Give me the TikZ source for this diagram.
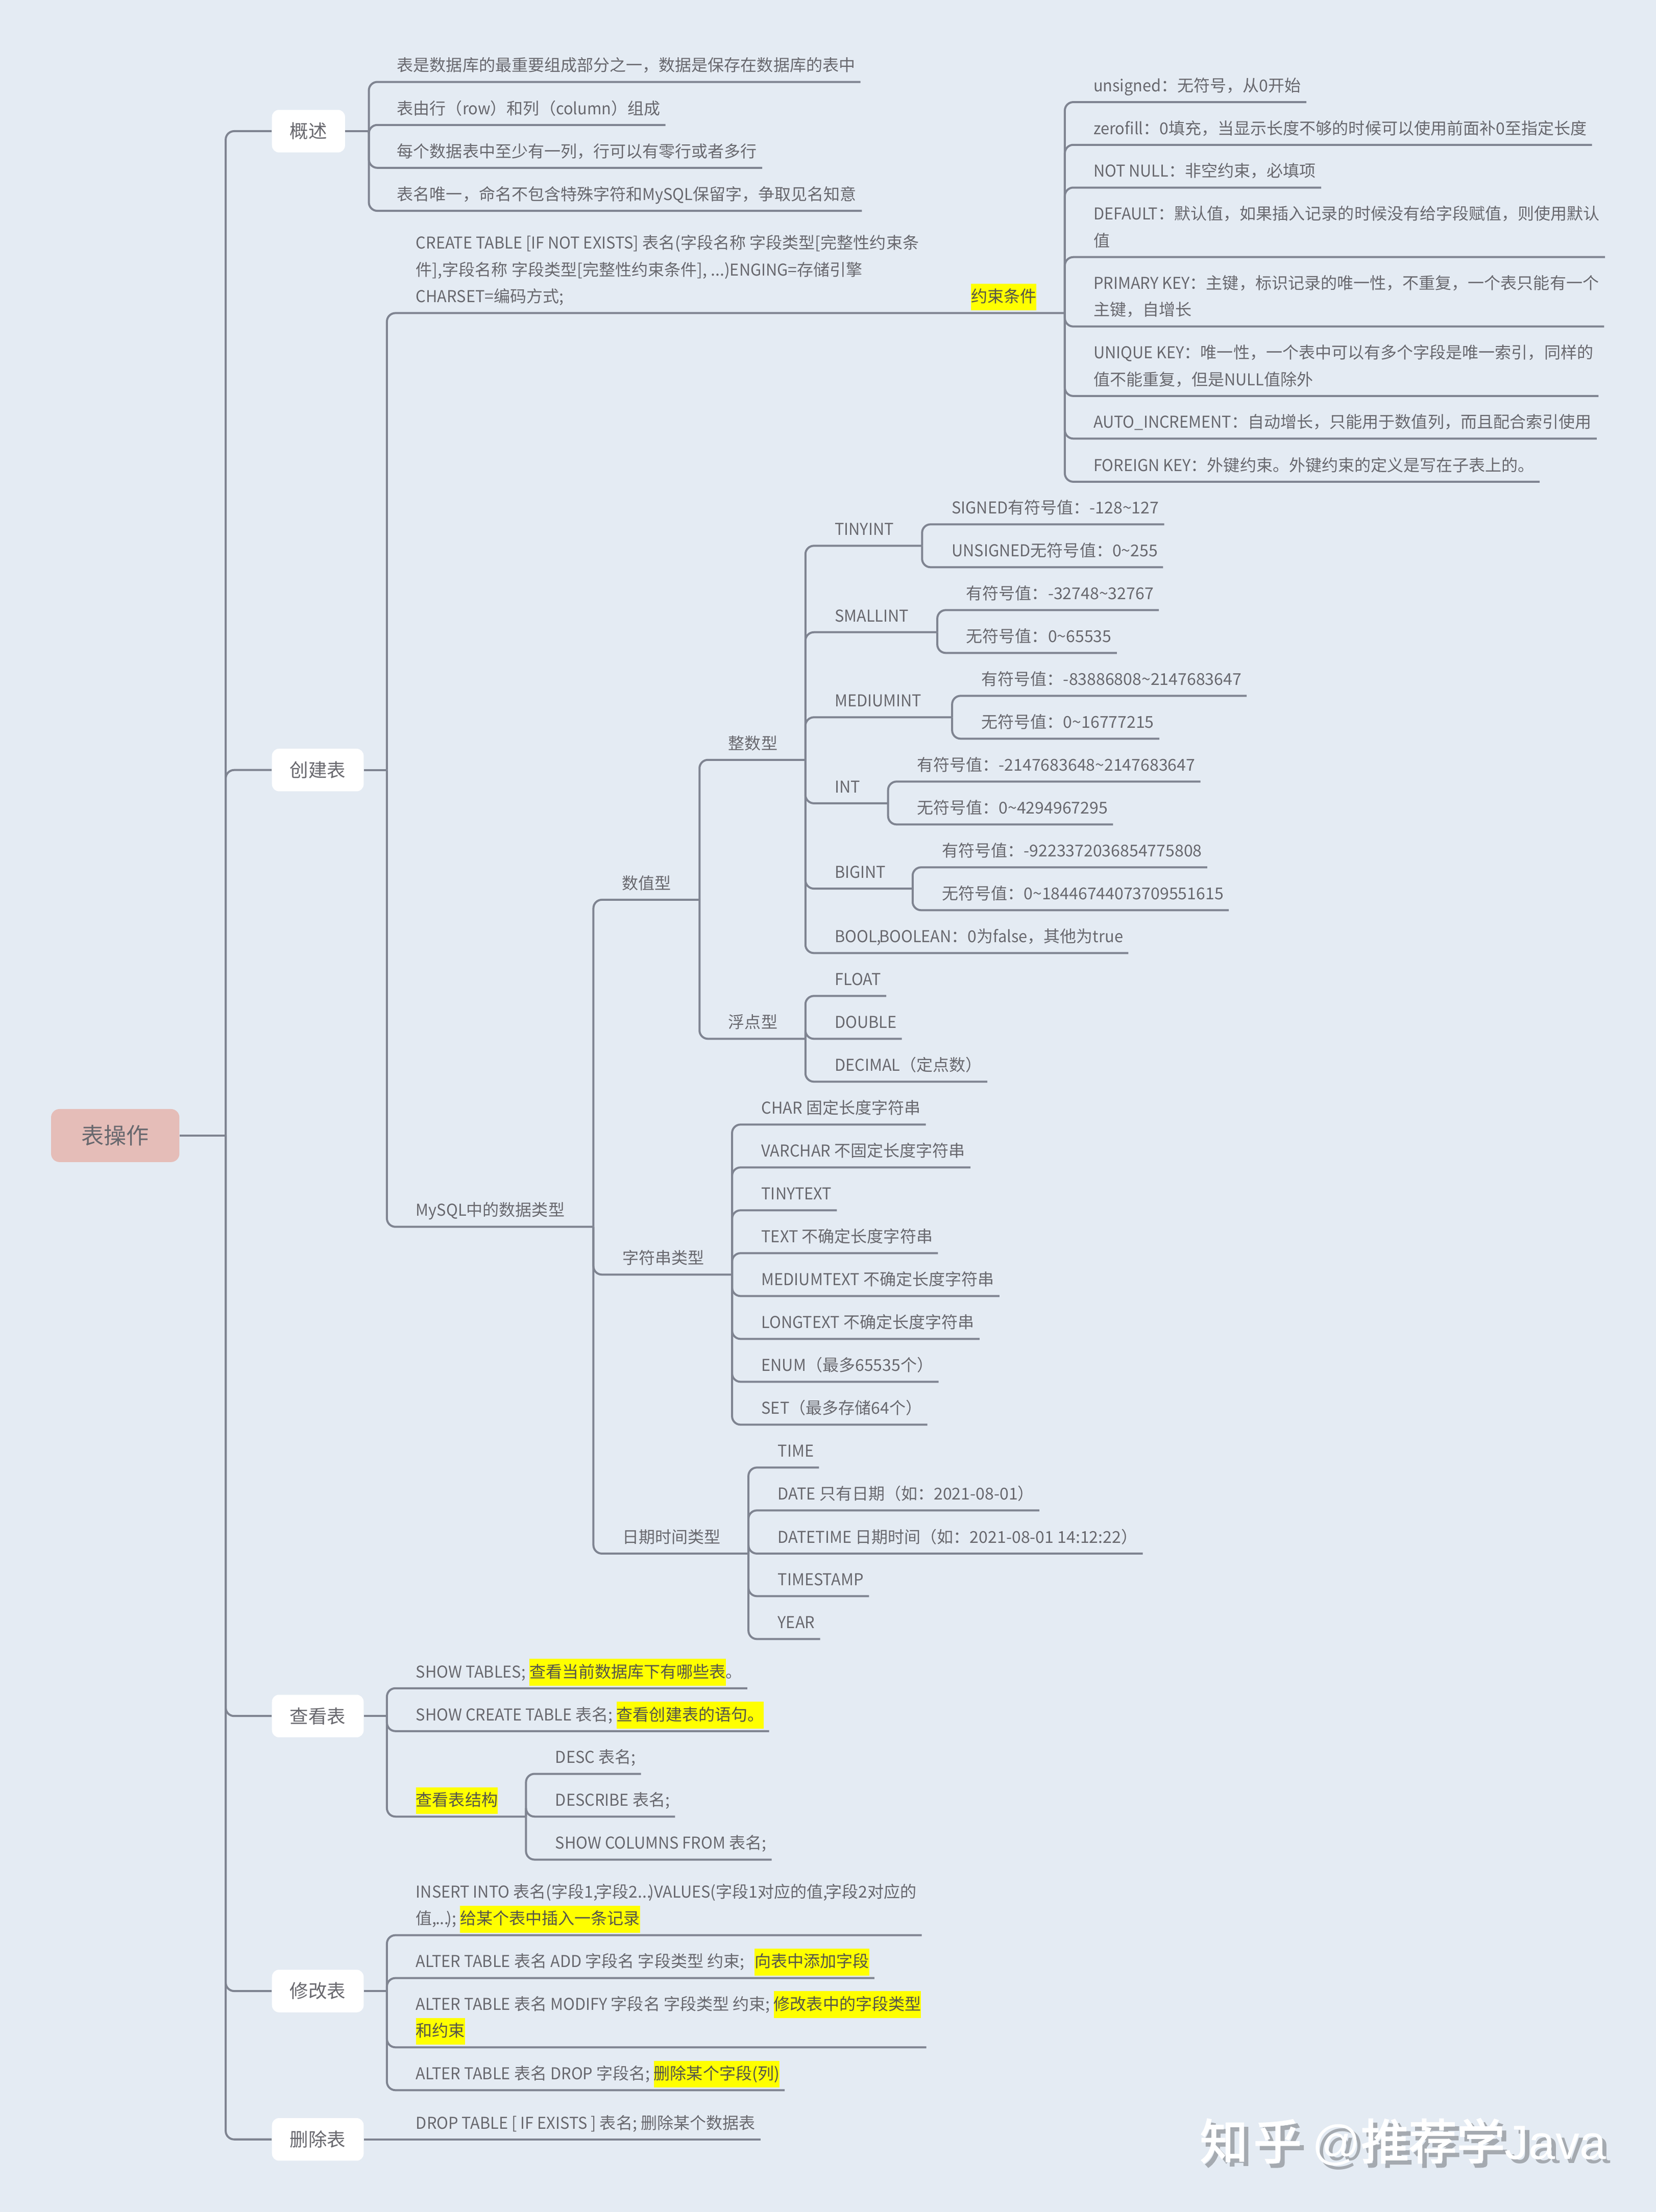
\documentclass[tikz,border=0pt]{standalone}
\usepackage{fontspec}
\setmainfont{Noto Sans CJK SC}
\newfontfamily\latnarrow[FakeStretch=0.96]{Noto Sans CJK SC}
\newfontfamily\wmcjk[FakeBold=2.5]{Noto Sans CJK SC}
\newfontfamily\wmlatin{Liberation Sans}
\usepackage{tikz}
\definecolor{pagebg}{HTML}{E4EBF3}
\definecolor{linegray}{HTML}{7F8491}
\definecolor{textgray}{HTML}{68686E}
\definecolor{rootfill}{HTML}{E5BDB8}
\definecolor{hlyellow}{HTML}{FFFF00}
\definecolor{hltext}{HTML}{55554A}
\definecolor{wmshade}{HTML}{A5AAB0}
\newcommand{\hl}[1]{{\setlength{\fboxsep}{0pt}\colorbox{hlyellow}{\color{hltext}\strut #1}}}
\newcommand{\lat}[1]{{\latnarrow #1}}
\newcommand{\til}{\textasciitilde}
\newcommand{\wmtext}{{\wmcjk 知\hspace{4pt}乎 }{\wmlatin @}{\wmcjk 推荐学}{\wmlatin Java}}
\tikzset{
  link/.style={line width=1.45pt, draw=linegray, rounded corners=6pt},
  leaf/.style={anchor=south west, inner xsep=0pt, inner ysep=1.6pt, align=left, text=textgray,
    font=\fontsize{11.6}{19}\selectfont, execute at begin node=\strut, execute at end node=\strut},
  topic/.style={fill=white, rounded corners=5pt, inner xsep=12.7pt, inner ysep=0pt, minimum height=30.2pt,
    text=textgray, font=\fontsize{13.2}{16}\selectfont},
  rootbox/.style={fill=rootfill, rounded corners=6pt, minimum width=91pt, minimum height=37.6pt,
    inner sep=0pt, text=textgray, font=\fontsize{16}{20}\selectfont},
  watermark/.style={anchor=west, inner sep=0pt, font=\fontsize{34}{40}\selectfont}
}
\begin{document}
\begin{tikzpicture}[x=1pt,y=-1pt]
  \fill [pagebg] (0,0) rectangle (1174,1568.5);
  \useasboundingbox (0,0) rectangle (1174,1568.5);

  \node (root) at (81.7,805.2) [rootbox] {表操作};
  \node (gaishu) at (192.6,93) [topic, anchor=west] {概述};
  \node (chuangjian) at (192.6,546) [topic, anchor=west] {创建表};
  \node (chakan) at (192.6,1216.8) [topic, anchor=west] {查看表};
  \node (xiugai) at (192.6,1411.8) [topic, anchor=west] {修改表};
  \node (shanchu) at (192.6,1517) [topic, anchor=west] {删除表};

  \coordinate (rootT) at (160,805.2);
  \coordinate (gsT) at (261.5,93);
  \coordinate (cjT) at (274.3,546);
  \coordinate (ckT) at (274.3,1216.8);
  \coordinate (xgT) at (274.3,1411.8);
  \coordinate (ysT) at (754.9,222);
  \coordinate (sjT) at (420.7,869.9);
  \coordinate (szT) at (495.9,638);
  \coordinate (zsT) at (571,538.8);
  \coordinate (fdT) at (571,736.6);
  \coordinate (tiT) at (653.7,387);
  \coordinate (smT) at (664.5,448.3);
  \coordinate (meT) at (675,508.6);
  \coordinate (inT) at (629.6,569.6);
  \coordinate (biT) at (647,630.1);
  \coordinate (zfT) at (519,903.8);
  \coordinate (rqT) at (530.6,1101.6);
  \coordinate (jgT) at (372.9,1288.1);

  \node (gs1) at (281.3,58.1) [leaf] {表是数据库的最重要组成部分之一，数据是保存在数据库的表中};
  \node (gs2) at (281.3,88.6) [leaf] {表由行（\lat{row}）和列（\lat{column}）组成};
  \node (gs3) at (281.3,119) [leaf] {每个数据表中至少有一列，行可以有零行或者多行};
  \node (gs4) at (281.3,149.5) [leaf] {表名唯一，命名不包含特殊字符和\lat{MySQL}保留字，争取见名知意};

  \node (create) at (294.7,222) [leaf] {\lat{CREATE TABLE [IF NOT EXISTS]} 表名(字段名称 字段类型[完整性约束条\\件],字段名称 字段类型[完整性约束条件], ...)\lat{ENGING}=存储引擎\\\lat{CHARSET}=编码方式;};
  \node (yueshu) at (688.2,222) [leaf] {\hl{约束条件}};
  \node (ys1) at (775,72.4) [leaf] {\lat{unsigned}：无符号，从0开始};
  \node (ys2) at (775,102.7) [leaf] {\lat{zerofill}：0填充，当显示长度不够的时候可以使用前面补0至指定长度};
  \node (ys3) at (775,133) [leaf] {\lat{NOT NULL}：非空约束，必填项};
  \node (ys4) at (775,182.3) [leaf] {\lat{DEFAULT}：默认值，如果插入记录的时候没有给字段赋值，则使用默认\\值};
  \node (ys5) at (775,231.5) [leaf] {\lat{PRIMARY KEY}：主键，标识记录的唯一性，不重复，一个表只能有一个\\主键，自增长};
  \node (ys6) at (775,280.8) [leaf] {\lat{UNIQUE KEY}：唯一性，一个表中可以有多个字段是唯一索引，同样的\\值不能重复，但是\lat{NULL}值除外};
  \node (ys7) at (775,311) [leaf] {\lat{AUTO\_INCREMENT}：自动增长，只能用于数值列，而且配合索引使用};
  \node (ys8) at (775,341.6) [leaf] {\lat{FOREIGN KEY}：外键约束。外键约束的定义是写在子表上的。};

  \node (mysql) at (294.7,869.9) [leaf] {\lat{MySQL}中的数据类型};
  \node (shuzhi) at (440.9,638) [leaf] {数值型};
  \node (zhengshu) at (516.2,538.8) [leaf] {整数型};
  \node (fudian) at (516.2,736.6) [leaf] {浮点型};
  \node (tiny) at (591.6,387) [leaf] {\lat{TINYINT}};
  \node (small) at (591.6,448.3) [leaf] {\lat{SMALLINT}};
  \node (medium) at (591.6,508.6) [leaf] {\lat{MEDIUMINT}};
  \node (int) at (591.6,569.6) [leaf] {\lat{INT}};
  \node (big) at (591.6,630.1) [leaf] {\lat{BIGINT}};
  \node (bool) at (591.6,675.8) [leaf] {\lat{BOOL,\hspace{-1.5pt}BOOLEAN}：0为\lat{false}，其他为\lat{true}};
  \node (ti1) at (674.5,371.8) [leaf] {\lat{SIGNED}有符号值：-128\til127};
  \node (ti2) at (674.5,402.2) [leaf] {\lat{UNSIGNED}无符号值：0\til255};
  \node (sm1) at (684.8,432.6) [leaf] {有符号值：-32748\til32767};
  \node (sm2) at (684.8,463) [leaf] {无符号值：0\til65535};
  \node (me1) at (695.6,493.4) [leaf] {有符号值：-83886808\til2147683647};
  \node (me2) at (695.6,523.8) [leaf] {无符号值：0\til16777215};
  \node (in1) at (649.9,554.2) [leaf] {有符号值：-2147683648\til2147683647};
  \node (in2) at (649.9,584.6) [leaf] {无符号值：0\til4294967295};
  \node (bi1) at (667.6,615) [leaf] {有符号值：-9223372036854775808};
  \node (bi2) at (667.6,645.4) [leaf] {无符号值：0\til18446744073709551615};
  \node (fd1) at (591.6,706.2) [leaf] {\lat{FLOAT}};
  \node (fd2) at (591.6,736.6) [leaf] {\lat{DOUBLE}};
  \node (fd3) at (591.6,767) [leaf] {\lat{DECIMAL}（定点数）};

  \node (zifu) at (441,903.8) [leaf] {字符串类型};
  \node (zf1) at (539.6,797.4) [leaf] {\lat{CHAR} 固定长度字符串};
  \node (zf2) at (539.6,827.8) [leaf] {\lat{VARCHAR} 不固定长度字符串};
  \node (zf3) at (539.6,858.2) [leaf] {\lat{TINYTEXT}};
  \node (zf4) at (539.6,888.6) [leaf] {\lat{TEXT} 不确定长度字符串};
  \node (zf5) at (539.6,919) [leaf] {\lat{MEDIUMTEXT} 不确定长度字符串};
  \node (zf6) at (539.6,949.4) [leaf] {\lat{LONGTEXT} 不确定长度字符串};
  \node (zf7) at (539.6,979.8) [leaf] {\lat{ENUM}（最多65535个）};
  \node (zf8) at (539.6,1010.2) [leaf] {\lat{SET}（最多存储64个）};

  \node (riqi) at (441,1101.6) [leaf] {日期时间类型};
  \node (rq1) at (551.2,1040.6) [leaf] {\lat{TIME}};
  \node (rq2) at (551.2,1071) [leaf] {\lat{DATE} 只有日期（如：2021-08-01）};
  \node (rq3) at (551.2,1101.6) [leaf] {\lat{DATETIME} 日期时间（如：2021-08-01 14:12:22）};
  \node (rq4) at (551.2,1131.8) [leaf] {\lat{TIMESTAMP}};
  \node (rq5) at (551.2,1162.2) [leaf] {\lat{YEAR}};

  \node (ck1) at (294.7,1197.1) [leaf] {\lat{SHOW TABLES;} \hl{查看当前数据库下有哪些表}。};
  \node (ck2) at (294.7,1227.5) [leaf] {\lat{SHOW CREATE TABLE} 表名; \hl{查看创建表的语句。}};
  \node (ck3) at (294.7,1288.1) [leaf] {\hl{查看表结构}};
  \node (jg1) at (393.5,1257.8) [leaf] {\lat{DESC} 表名;};
  \node (jg2) at (393.5,1288.1) [leaf] {\lat{DESCRIBE} 表名;};
  \node (jg3) at (393.5,1318.6) [leaf] {\lat{SHOW COLUMNS FROM} 表名;};

  \node (xg1) at (294.7,1372.2) [leaf] {\lat{INSERT INTO} 表名(字段1,\hspace{-1.5pt}字段2...\hspace{-2pt})\lat{VALUES}(字段1对应的值,\hspace{-1.5pt}字段2对应的\\值,\hspace{-1pt}...\hspace{-2pt}); \hl{给某个表中插入一条记录}};
  \node (xg2) at (294.7,1402.6) [leaf] {\lat{ALTER TABLE} 表名 \lat{ADD} 字段名 字段类型 约束;\ \ \hspace{2pt}\hl{向表中添加字段}};
  \node (xg3) at (294.7,1451.7) [leaf] {\lat{ALTER TABLE} 表名 \lat{MODIFY} 字段名 字段类型 约束; \hl{修改表中的字段类型}\\\hl{和约束}};
  \node (xg4) at (294.7,1482.1) [leaf] {\lat{ALTER TABLE} 表名 \lat{DROP} 字段名; \hl{删除某个字段(列)}};
  \node (sc1) at (294.7,1517) [leaf] {\lat{DROP TABLE [ IF EXISTS ]} 表名; 删除某个数据表};

  \draw [link] (root.east) -- (rootT);
  \foreach \n in {gaishu,chuangjian,chakan,xiugai,shanchu}
    \draw [link] (rootT) |- (\n.west);
  \draw [link] (gaishu.east) -- (gsT);
  \foreach \n in {gs1,gs2,gs3,gs4}
    \draw [link] (gsT) |- ([xshift=3.5pt]\n.south east);
  \draw [link] (chuangjian.east) -- (cjT);
  \draw [link] (cjT) |- (ysT);
  \draw [link] (cjT) |- (sjT);
  \foreach \n in {ys1,ys2,ys3,ys4,ys5,ys6,ys7,ys8}
    \draw [link] (ysT) |- ([xshift=3.5pt]\n.south east);
  \draw [link] (sjT) |- (szT);
  \draw [link] (sjT) |- (zfT);
  \draw [link] (sjT) |- (rqT);
  \draw [link] (szT) |- (zsT);
  \draw [link] (szT) |- (fdT);
  \foreach \n in {tiT,smT,meT,inT,biT}
    \draw [link] (zsT) |- (\n);
  \draw [link] (zsT) |- ([xshift=3.5pt]bool.south east);
  \foreach \n in {ti1,ti2}
    \draw [link] (tiT) |- ([xshift=3.5pt]\n.south east);
  \foreach \n in {sm1,sm2}
    \draw [link] (smT) |- ([xshift=3.5pt]\n.south east);
  \foreach \n in {me1,me2}
    \draw [link] (meT) |- ([xshift=3.5pt]\n.south east);
  \foreach \n in {in1,in2}
    \draw [link] (inT) |- ([xshift=3.5pt]\n.south east);
  \foreach \n in {bi1,bi2}
    \draw [link] (biT) |- ([xshift=3.5pt]\n.south east);
  \foreach \n in {fd1,fd2,fd3}
    \draw [link] (fdT) |- ([xshift=3.5pt]\n.south east);
  \foreach \n in {zf1,zf2,zf3,zf4,zf5,zf6,zf7,zf8}
    \draw [link] (zfT) |- ([xshift=3.5pt]\n.south east);
  \foreach \n in {rq1,rq2,rq3,rq4,rq5}
    \draw [link] (rqT) |- ([xshift=3.5pt]\n.south east);
  \draw [link] (chakan.east) -- (ckT);
  \foreach \n in {ck1,ck2}
    \draw [link] (ckT) |- ([xshift=3.5pt]\n.south east);
  \draw [link] (ckT) |- (jgT);
  \foreach \n in {jg1,jg2,jg3}
    \draw [link] (jgT) |- ([xshift=3.5pt]\n.south east);
  \draw [link] (xiugai.east) -- (xgT);
  \foreach \n in {xg1,xg2,xg3,xg4}
    \draw [link] (xgT) |- ([xshift=3.5pt]\n.south east);
  \draw [link] (shanchu.east) -- ([xshift=3.5pt]sc1.south east);

  \node (wmShadow) at (853.5,1522) [watermark, text=wmshade] {\wmtext};
  \node (wmText) at (850.5,1519) [watermark, text=white] {\wmtext};
\end{tikzpicture}
\end{document}
